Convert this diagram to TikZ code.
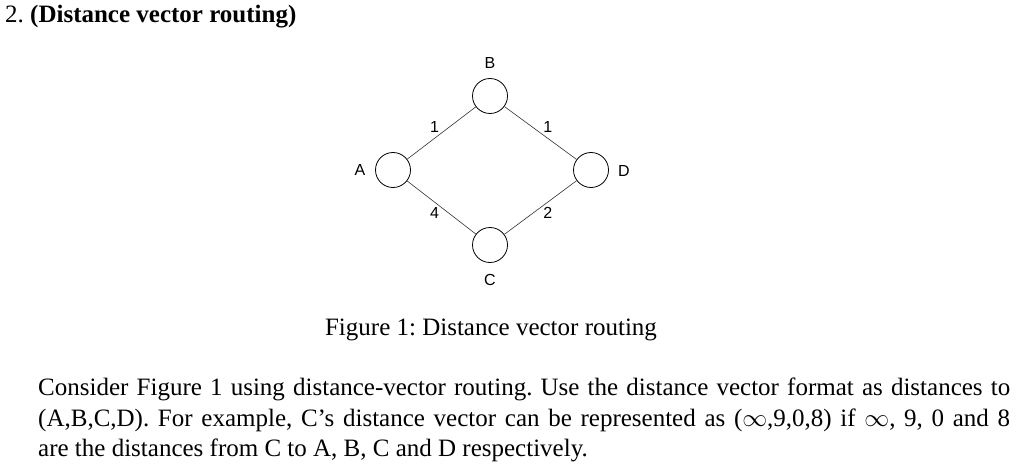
\documentclass[tikz,border=0pt]{standalone}
\usepackage{fontspec}
\setmainfont{Liberation Serif}
\newfontfamily\lsans{Liberation Sans}
\begin{document}
\frenchspacing
\begin{tikzpicture}[x=1pt,y=-1pt,
  rnode/.style={circle,draw,line width=0.8pt,minimum size=35pt,inner sep=0pt},
  lab/.style={font=\lsans\fontsize{16}{18}\selectfont,inner sep=0pt},
  link/.style={draw=black!80,line width=0.6pt},
  txt/.style={font=\fontsize{25}{30.5}\selectfont,inner sep=0pt}]
\useasboundingbox[fill=white] (0,0) rectangle (1024,473);
\node[txt,anchor=west] (title) at (5,17) {2.\ \textbf{(Distance vector routing)}};
\node[rnode] (A) at (393,170) {};
\node[rnode] (B) at (490,96) {};
\node[rnode] (D) at (591,170) {};
\node[rnode] (C) at (490,245) {};
\node[lab] (la) at (360,170) {A};
\node[lab] (lb) at (490,63) {B};
\node[lab] (ld) at (624,171) {D};
\node[lab] (lc) at (490,280) {C};
\draw[link] (A) -- node[lab,pos=0.4,above=5pt] (e1) {1} (B);
\draw[link] (B) -- node[lab,pos=0.6,above=5pt] (e2) {1} (D);
\draw[link] (A) -- node[lab,pos=0.4,below=5pt] (e3) {4} (C);
\draw[link] (C) -- node[lab,pos=0.6,below=5pt] (e4) {2} (D);
\node[txt] (cap) at (491,330) {Figure 1: Distance vector routing};
\node[txt,anchor=north west,text width=972pt,align=justify] (para) at (38,378)
{Consider Figure 1 using distance-vector routing. Use the distance vector format as distances to (A,B,C,D). For example, C's distance vector can be represented as ($\infty$,9,0,8) if $\infty$, 9, 0 and 8\linebreak are the distances from C to A, B, C and D respectively.};
\end{tikzpicture}
\end{document}
